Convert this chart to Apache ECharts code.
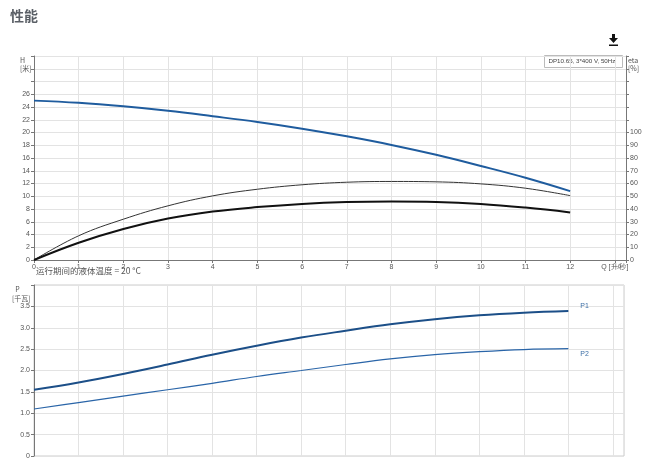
<!DOCTYPE html>
<html>
<head>
<meta charset="utf-8">
<script src="https://cdn.jsdelivr.net/npm/echarts@6/dist/echarts.min.js"></script>
<style>
html,body{margin:0;padding:0;background:#fff;}
#main{width:650px;height:473px;}
</style>
</head>
<body>
<div id="main"></div>
<script>
// Data
const q = [0,1,2,3,4,5,6,7,8,9,10,11,12];
const headH = [25.0,24.65,24.1,23.4,22.55,21.65,20.6,19.4,18.05,16.5,14.75,12.9,10.8];
const etaThin = [0,19,32,42.5,50.3,55.5,59,61,61.6,61.3,59.7,56.3,50.5];
const etaThick = [0,13.5,24.3,32.5,38,41.5,44,45.4,45.8,45.5,44,41.1,37.3];
const powerP1 = [1.55,1.72,1.92,2.14,2.37,2.58,2.77,2.93,3.08,3.2,3.29,3.35,3.39];
const powerP2 = [1.1,1.25,1.4,1.55,1.7,1.86,2.0,2.14,2.27,2.37,2.44,2.49,2.51];
const hTicksShownMax = 26;
const etaTicksShownMax = 100;
const pTicksShownMax = 3.5;
const qTicksShownMax = 12;

function pairs(xs, ys){ return xs.map((x,i)=>[x, ys[i]]); }

const chart = echarts.init(document.getElementById('main'), null, {renderer:'canvas'});
const labelStyle = {fontSize:7, color:'#555', fontFamily:'Liberation Sans, Arial, sans-serif'};
const gridLine = {show:true, lineStyle:{color:'#e3e3e3', width:1}};
const axisLine = {show:true, lineStyle:{color:'#777', width:1}};

const option = {
  animation:false,
  backgroundColor:'#fff',
  grid:[
    {left:34, right:24, top:56, height:204, containLabel:false},
    {left:34, right:26, top:285, height:171, containLabel:false, show:true, borderColor:'#ccc', borderWidth:1}
  ],
  xAxis:[
    {gridIndex:0, type:'value', min:0, max:13.25, interval:1,
     axisLine:axisLine, axisTick:{show:true, length:3, lineStyle:{color:'#777'}},
     splitLine:gridLine,
     axisLabel:Object.assign({margin:4, showMaxLabel:true, formatter:v=> v===13 ? 'Q [升/秒]' : (v<=qTicksShownMax && Number.isInteger(v) ? String(v) : '')}, labelStyle)},
    {gridIndex:1, type:'value', min:0, max:13.25, interval:1,
     axisLine:{show:false}, axisTick:{show:false}, splitLine:gridLine,
     axisLabel:{show:false}}
  ],
  yAxis:[
    {gridIndex:0, type:'value', min:0, max:32, interval:2,
     axisLine:axisLine, axisTick:{show:true, length:3, lineStyle:{color:'#777'}},
     splitLine:gridLine,
     axisLabel:Object.assign({margin:4, formatter:v=> v<=hTicksShownMax ? String(v) : ''}, labelStyle)},
    {gridIndex:0, type:'value', position:'right', min:0, max:160, interval:10,
     axisLine:axisLine, axisTick:{show:true, length:3, lineStyle:{color:'#777'}},
     splitLine:{show:false},
     axisLabel:Object.assign({margin:4, formatter:v=> v<=etaTicksShownMax ? String(v) : ''}, labelStyle)},
    {gridIndex:1, type:'value', min:0, max:4, interval:0.5,
     axisLine:axisLine, axisTick:{show:true, length:3, lineStyle:{color:'#777'}},
     splitLine:gridLine,
     axisLabel:Object.assign({margin:4, formatter:v=> v===0 ? '0' : (v<=pTicksShownMax ? v.toFixed(1) : '')}, labelStyle)}
  ],
  series:[
    {type:'line', xAxisIndex:0, yAxisIndex:0, data:pairs(q, headH), smooth:0.4, showSymbol:false,
     lineStyle:{color:'#1f5c9e', width:2}},
    {type:'line', xAxisIndex:0, yAxisIndex:1, data:pairs(q, etaThin), smooth:0.4, showSymbol:false,
     lineStyle:{color:'#333', width:1}},
    {type:'line', xAxisIndex:0, yAxisIndex:1, data:pairs(q, etaThick), smooth:0.4, showSymbol:false,
     lineStyle:{color:'#111', width:2}},
    {type:'line', xAxisIndex:1, yAxisIndex:2, data:pairs(q, powerP1), smooth:0.4, showSymbol:false,
     lineStyle:{color:'#1c4f88', width:2},
     endLabel:{show:true, formatter:'P1', fontSize:7, color:'#3d6fa6', offset:[4,-5]}},
    {type:'line', xAxisIndex:1, yAxisIndex:2, data:pairs(q, powerP2), smooth:0.4, showSymbol:false,
     lineStyle:{color:'#2a65a8', width:1.2},
     endLabel:{show:true, formatter:'P2', fontSize:7, color:'#3d6fa6', offset:[4,5]}}
  ],
  graphic:[
    {type:'text', left:10, top:9, style:{text:'性能', fontSize:14, fontWeight:'bold', fill:'#5a5f66', fontFamily:'Noto Sans CJK SC'}},
    {type:'group', left:609, top:34, children:[
      {type:'polygon', shape:{points:[[4,0],[7,0],[7,4],[10,4],[5.5,9],[1,4],[4,4]]}, style:{fill:'#111'}},
      {type:'rect', shape:{x:1,y:10.5,width:9,height:1.5}, style:{fill:'#111'}}
    ]},
    {type:'text', left:20, top:56, style:{text:'H\n[米]', fontSize:7, fill:'#555', align:'center', lineHeight:8, fontFamily:'Noto Sans CJK SC'}},
    {type:'text', left:628, top:56, style:{text:'eta\n[%]', fontSize:7, fill:'#555', lineHeight:8, fontFamily:'Noto Sans CJK SC'}},
    {type:'group', left:544, top:55, children:[
      {type:'rect', shape:{x:0,y:0,width:78,height:12}, style:{fill:'#fff', stroke:'#bbb', lineWidth:1}},
      {type:'text', x:4, y:3, style:{text:'DP10.65, 3*400 V, 50Hz', fontSize:6.2, fill:'#444', fontFamily:'Liberation Sans, Arial'}}
    ]},
    {type:'text', left:36, top:267, style:{text:'运行期间的液体温度 = 20 °C', fontSize:8.5, fill:'#555', fontFamily:'Noto Sans CJK SC'}},
    {type:'text', left:12, top:285, style:{text:'  P\n[千瓦]', fontSize:7, fill:'#555', lineHeight:9, align:'left', fontFamily:'Noto Sans CJK SC'}}
  ]
};
chart.setOption(option);
</script>
</body>
</html>
